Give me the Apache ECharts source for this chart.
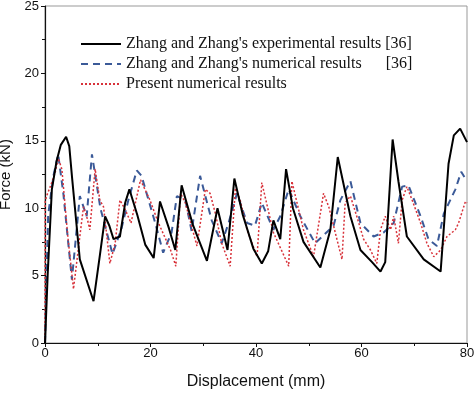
<!DOCTYPE html>
<html><head><meta charset="utf-8">
<script src="https://cdn.jsdelivr.net/npm/echarts@6/dist/echarts.min.js"></script>
<style>html,body{margin:0;padding:0;background:#fff}#c{width:474px;height:393px}</style>
</head><body><div id="c"></div>
<script>
const xTicks = [0, 20, 40, 60, 80];
const yTicks = [0, 5, 10, 15, 20, 25];
const seriesNames = ["Zhang and Zhang's experimental results [36]", "Zhang and Zhang's numerical results      [36]", "Present numerical results"];
const experimental = [[0,0],[0.5,5],[1.3,11.4],[2.2,13.5],[3.0,14.7],[4.0,15.3],[4.6,14.6],[5.1,12.4],[6.6,6.2],[9.2,3.1],[10.4,6.5],[11.4,9.4],[12.2,8.7],[13.0,7.7],[14.2,7.9],[15.2,10.4],[16.0,11.4],[17.5,9.5],[19,7.3],[20.6,6.3],[21.8,10.5],[23.5,8.5],[24.7,6.9],[25.9,11.7],[28,8.8],[30.7,6.1],[32.7,10.0],[34.6,6.9],[35.9,12.2],[37.5,9.5],[39.5,7.0],[41.1,5.9],[42.3,6.8],[43.3,9.1],[44.6,7.7],[45.7,12.9],[47,10],[49,7.5],[52.2,5.6],[54.1,8.4],[55.5,13.8],[57.9,9.4],[59.8,6.9],[62,6.0],[63.6,5.3],[64.5,6.0],[65.9,15.1],[67,12],[68.6,7.9],[71.8,6.2],[75.0,5.3],[76.5,13.3],[77.5,15.4],[78.7,15.9],[80,14.9]];
const numerical = [[0,0],[0.3,5],[0.6,9.5],[1.6,12.4],[2.5,14.0],[3.5,11],[5.1,4.7],[6.6,10.9],[7.9,9.4],[8.9,14.0],[10.5,10],[12.8,6.6],[14.5,8.5],[15.8,10.6],[17.4,12.8],[18.3,12.4],[20.9,8.9],[22.4,6.7],[24,8.2],[25,10.9],[26.6,10.6],[27.8,8.3],[29.4,12.4],[31.6,9.1],[33.5,7.4],[34.8,8.9],[36.4,11.1],[38.3,8.9],[39.8,8.7],[41.1,10.4],[43.3,8.4],[44.6,9.4],[46.2,11.4],[48.4,9.4],[51.2,7.4],[54.7,8.7],[56,10.6],[57.9,12.0],[59.8,8.9],[62.3,7.9],[64.2,8.2],[66.1,8.9],[67.7,11.6],[68.9,11.7],[71.2,9.4],[72.7,7.7],[74.3,7.2],[75.6,9.6],[77.8,11.4],[78.9,12.7],[80,12.0]];
const present = [[0,0],[0.05,10.5],[0.3,10.9],[1.0,11.6],[1.9,12.6],[2.5,13.7],[3.2,12.9],[4.3,8],[5.4,4.0],[6.6,7.9],[7.3,10.1],[7.9,9.4],[8.5,8.4],[9.5,12.9],[10.4,10.6],[11.1,10.1],[12.3,5.9],[13.3,7.4],[14.2,10.6],[15.2,9.9],[16.3,8.9],[18.1,12.1],[19.9,10.6],[21.4,9.0],[23.8,6.9],[24.8,5.7],[25.7,11.1],[26.6,10.4],[28.8,7.2],[30.4,11.4],[31.3,11.1],[32.3,9.6],[33.5,7.4],[35.1,5.7],[36.1,11.5],[37,10.6],[38.3,8.4],[40.2,6.4],[41.1,11.9],[43.3,8.2],[46.2,5.7],[46.8,12.0],[49.0,8.4],[50.9,6.4],[52.8,11.1],[53.8,10.1],[56.3,6.2],[56.9,10.4],[57.9,10.9],[59.1,9.4],[60.4,7.7],[61.7,6.9],[62.9,5.9],[63.6,8.4],[64.5,9.4],[65.5,8.4],[66.1,9.4],[67,7.4],[67.7,10.6],[68.6,11.6],[69.6,10.6],[71.2,8.9],[72.4,7.4],[73.7,6.4],[75,6.9],[76.2,7.9],[77.8,8.4],[78.4,8.9],[79.7,10.5],[80,10.4]];

const chart = echarts.init(document.getElementById('c'), null, {renderer: 'canvas'});
const axisFont = {fontFamily: 'Liberation Sans, Arial, sans-serif', fontSize: 13, color: '#111'};
chart.setOption({
  animation: false,
  backgroundColor: '#fff',
  grid: {left: 45, right: 7, top: 6, bottom: 50, show: true, borderColor: '#999', borderWidth: 1, containLabel: false, outerBoundsMode: 'none'},
  legend: {
    left: 75, top: 31, orient: 'vertical', itemGap: 4, itemWidth: 40, itemHeight: 14,
    data: seriesNames,
    itemStyle: {opacity: 0},
    textStyle: {fontFamily: 'Liberation Serif, Times New Roman, serif', fontSize: 16, color: '#111'}
  },
  xAxis: {
    type: 'value', min: xTicks[0], max: xTicks[xTicks.length-1], interval: 20,
    name: 'Displacement (mm)', nameLocation: 'middle', nameGap: 31,
    nameTextStyle: {fontFamily: 'Liberation Sans, Arial, sans-serif', fontSize: 16, color: '#111'},
    axisLine: {show: true, lineStyle: {color: '#111', width: 1.2}},
    axisTick: {show: true, inside: false, length: 4, lineStyle: {color: '#111'}},
    minorTick: {show: true, splitNumber: 2, length: 3, lineStyle: {color: '#111'}},
    splitLine: {show: false},
    axisLabel: Object.assign({margin: 4}, axisFont)
  },
  yAxis: {
    type: 'value', min: yTicks[0], max: yTicks[yTicks.length-1], interval: 5,
    name: 'Force (kN)', nameLocation: 'middle', nameGap: 25, nameRotate: 90,
    nameTextStyle: {fontFamily: 'Liberation Sans, Arial, sans-serif', fontSize: 15, color: '#111'},
    axisLine: {show: true, lineStyle: {color: '#111', width: 1.2}},
    axisTick: {show: true, inside: false, length: 4, lineStyle: {color: '#111'}},
    minorTick: {show: true, splitNumber: 2, length: 3, lineStyle: {color: '#111'}},
    splitLine: {show: false},
    axisLabel: Object.assign({margin: 6}, axisFont)
  },
  series: [
    {name: seriesNames[0], type: 'line', data: experimental, showSymbol: false, symbol: 'none',
     lineStyle: {color: '#000', width: 2}, itemStyle: {color: '#000'}, z: 3},
    {name: seriesNames[1], type: 'line', data: numerical, showSymbol: false, symbol: 'none',
     lineStyle: {color: '#3b5a98', width: 2, type: [7, 5]}, itemStyle: {color: '#3b5a98'}, z: 2},
    {name: seriesNames[2], type: 'line', data: present, showSymbol: false, symbol: 'none',
     lineStyle: {color: '#d8323a', width: 1.5, type: [2, 2]}, itemStyle: {color: '#d8323a'}, z: 2}
  ]
});
</script></body></html>
